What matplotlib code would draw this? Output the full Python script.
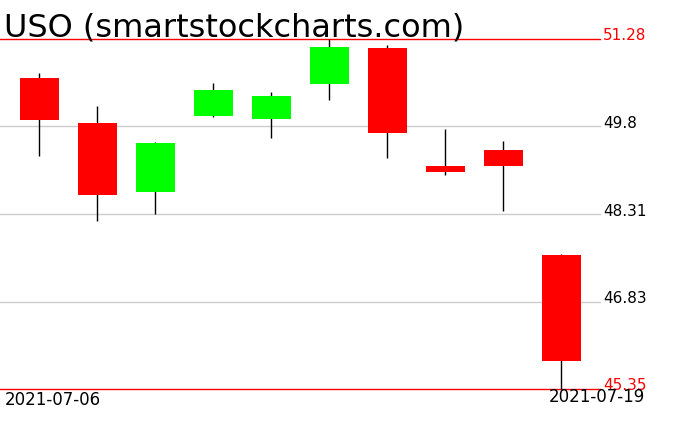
import matplotlib
matplotlib.use("Agg")
import matplotlib.pyplot as plt

# daily OHLC
dates = ["2021-07-06", "2021-07-07", "2021-07-08", "2021-07-09", "2021-07-12",
         "2021-07-13", "2021-07-14", "2021-07-15", "2021-07-16", "2021-07-19"]
opens = [50.62, 49.86, 48.69, 49.98, 49.93, 50.51, 51.13, 49.13, 49.40, 47.62]
highs = [50.70, 50.15, 49.53, 50.54, 50.38, 51.28, 51.18, 49.76, 49.55, 47.64]
lows = [49.30, 48.20, 48.32, 49.95, 49.61, 50.25, 49.27, 48.98, 48.37, 45.35]
closes = [49.90, 48.64, 49.52, 50.42, 50.31, 51.14, 49.69, 49.03, 49.13, 45.83]

levels = [51.28, 49.8, 48.31, 46.83, 45.35]
level_labels = ["51.28", "49.8", "48.31", "46.83", "45.35"]

W, H = 676, 431
fig = plt.figure(figsize=(W / 100, H / 100), dpi=100)
ax = fig.add_axes([0, 41 / H, 600 / W, 350 / H])
ax.set_xlim(-39 / 58, (600 - 39) / 58)
ax.set_ylim(min(levels), max(levels))
ax.axis("off")

for i, lv in enumerate(levels):
    edge = i == 0 or i == len(levels) - 1
    ax.axhline(lv, color="#ff0000" if edge else "#cccccc", lw=1, zorder=1, clip_on=False)
    ax.annotate(level_labels[i], xy=(1, lv), xycoords=("axes fraction", "data"),
                xytext=(3, 4), textcoords="offset pixels", ha="left", va="center",
                fontsize=11, color="#ff0000" if edge else "black", annotation_clip=False)

body_w = 39 / 58
for i in range(len(dates)):
    up = closes[i] >= opens[i]
    col = "#00ff00" if up else "#ff0000"
    ax.vlines(i, lows[i], highs[i], color="black", lw=1, zorder=2, clip_on=False)
    lo, hi = min(opens[i], closes[i]), max(opens[i], closes[i])
    ax.bar(i, hi - lo, bottom=lo, width=body_w, color=col, lw=0, zorder=3, clip_on=False)

fig.text(4 / W, 1 - 28 / H, "USO (smartstockcharts.com)", fontsize=23,
         color="black", ha="left", va="center")
fig.text(5 / W, 1 - 400 / H, dates[0], fontsize=12, ha="left", va="center")
fig.text(645 / W, 1 - 397 / H, dates[-1], fontsize=12, ha="right", va="center")

fig.savefig("out.png", dpi=100)
